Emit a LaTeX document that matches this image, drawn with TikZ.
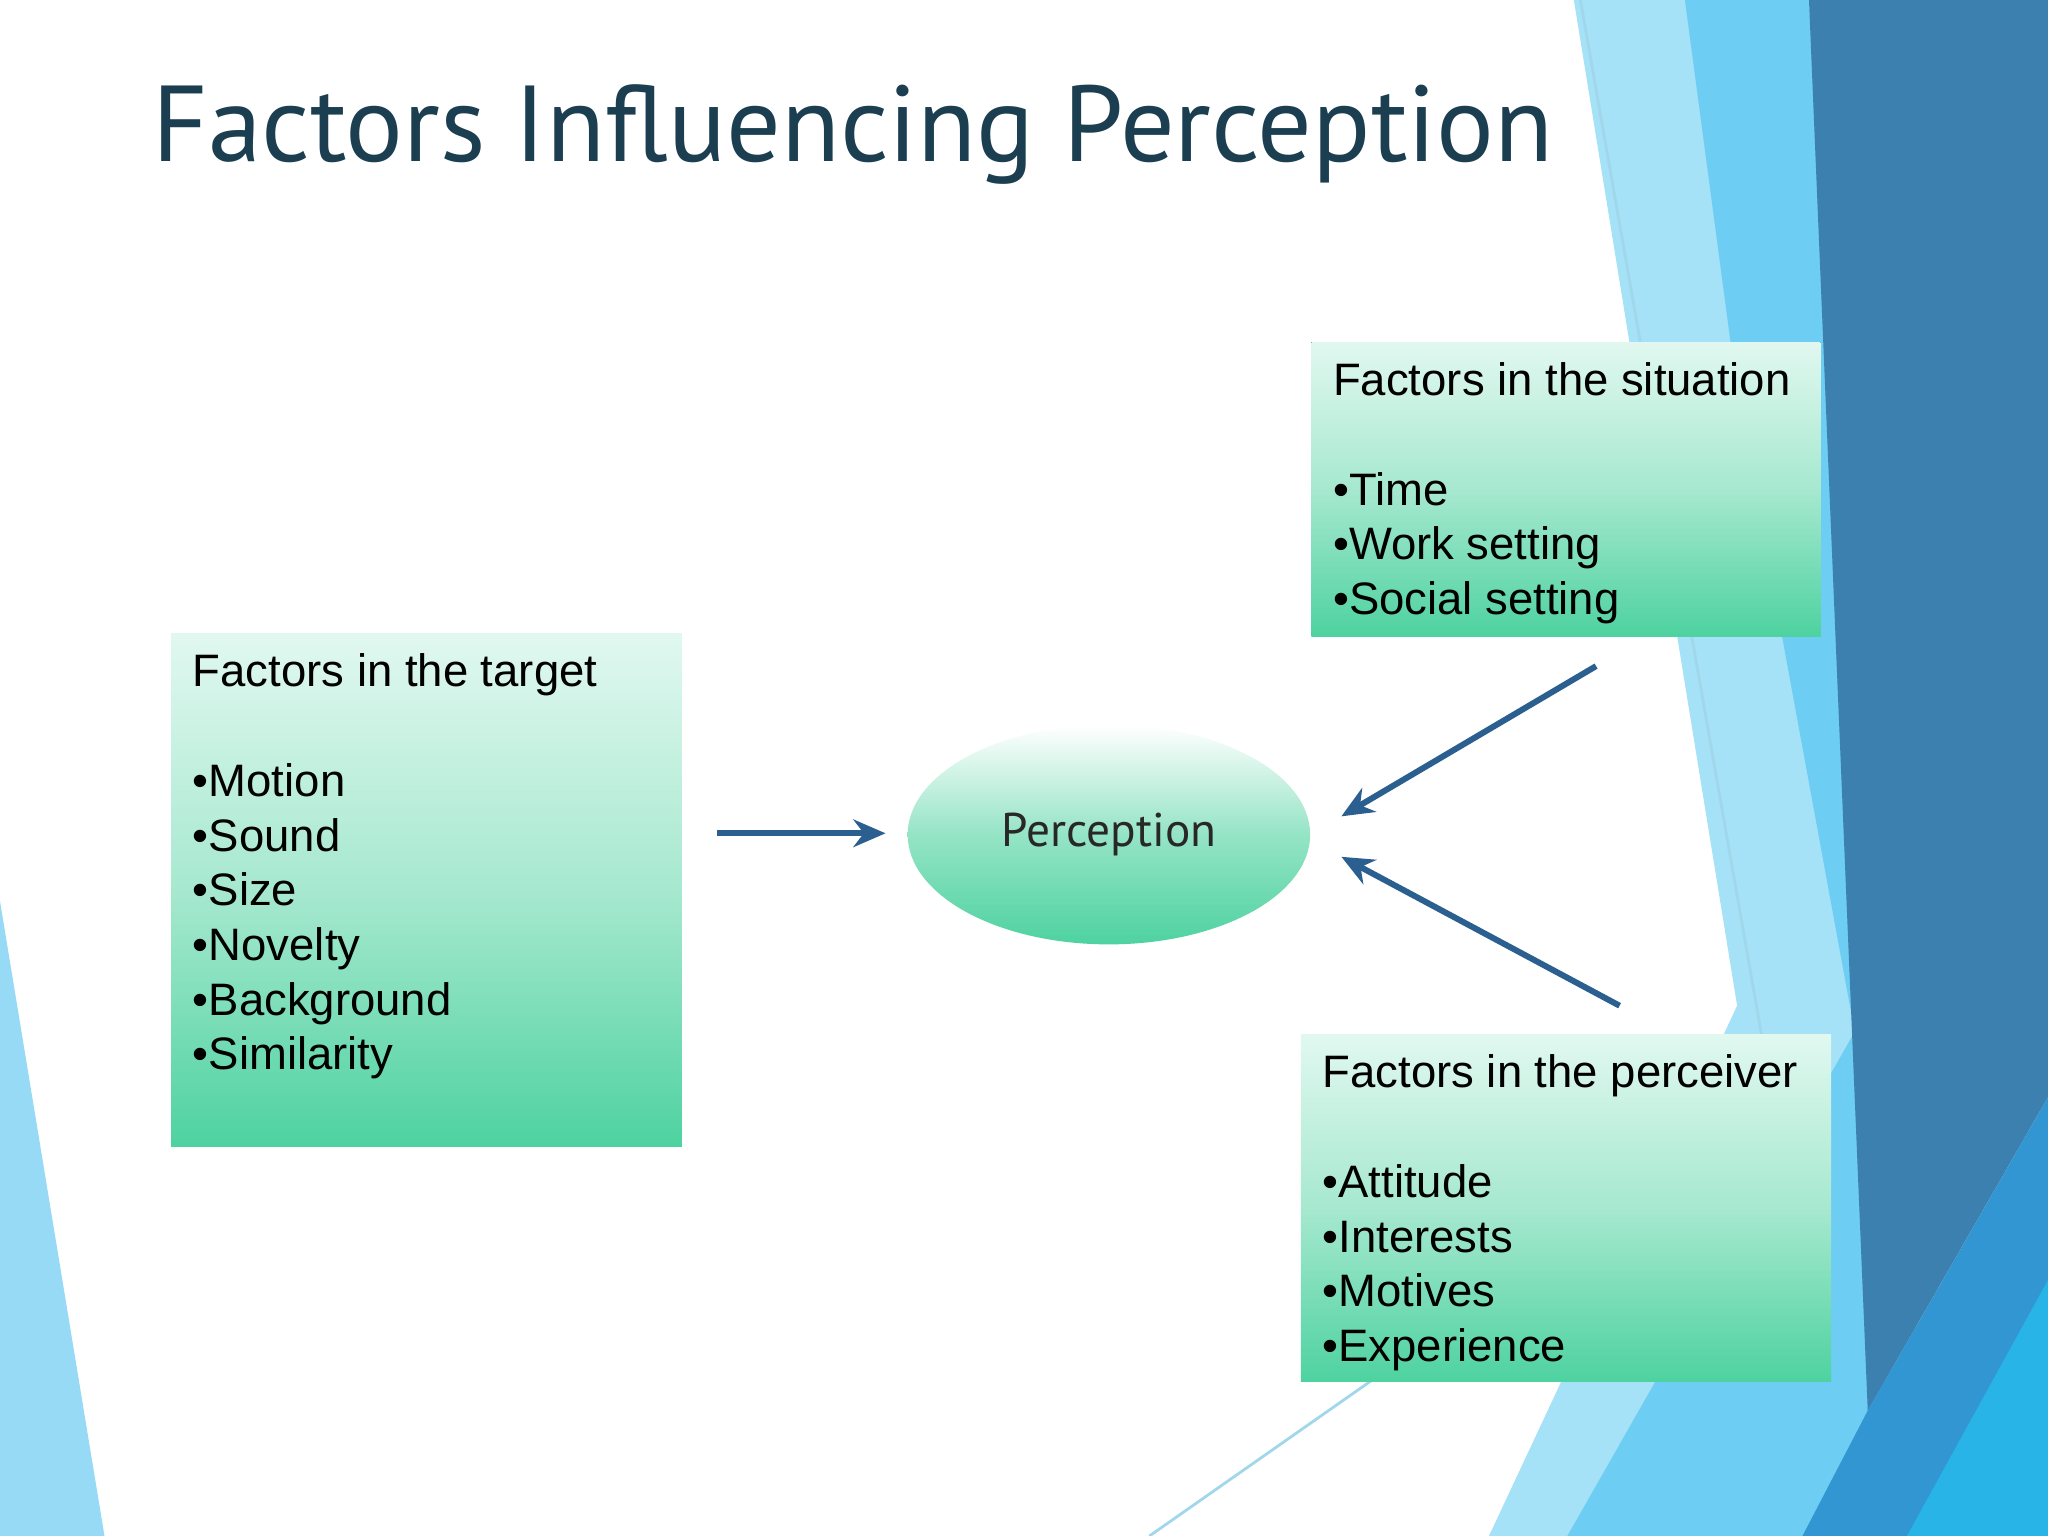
\documentclass[tikz,border=0pt]{standalone}
\usepackage{fontspec}
\setmainfont{Liberation Sans}
\newfontfamily\titlefont{PT Sans}
\usetikzlibrary{arrows.meta,shapes.geometric}
\definecolor{titlec}{RGB}{27,62,80}
\definecolor{arr}{RGB}{43,95,143}
\definecolor{gdark}{RGB}{78,210,160}
\definecolor{glight}{RGB}{225,248,240}
\tikzset{
 fbox/.style={anchor=north west,inner sep=0pt,align=left,font=\fontsize{9.9}{11.9}\selectfont,text=black},
 gfill/.style={top color=glight,bottom color=gdark,middle color=white!50!gdark,shading angle=0},
 arrw/.style={draw=arr,line width=1.3pt,-{Stealth[length=7pt,width=6pt]}}
}
\begin{document}
\begin{tikzpicture}[x=0.01cm,y=-0.01cm]
\useasboundingbox (0,0) rectangle (1568,1176);
\fill[white] (0,0) rectangle (1568,1176);
% background decoration
\fill[color={rgb,255:red,165;green,225;blue,247}] (1205,0)--(1385,0)--(1480,1176)--(1140,1176)--(1330,770)--cycle;
\fill[color={rgb,255:red,110;green,205;blue,242}] (1290,0)--(1385,0)--(1450,1176)--(1200,1176)--(1420,790)--(1330,300)--cycle;
\fill[color={rgb,255:red,60;green,128;blue,175}] (1385,0)--(1568,0)--(1568,840)--(1430,1080)--cycle;
\fill[color={rgb,255:red,50;green,150;blue,210}] (1430,1080)--(1568,840)--(1568,1176)--(1380,1176)--cycle;
\fill[color={rgb,255:red,40;green,180;blue,230}] (1460,1176)--(1568,980)--(1568,1176)--cycle;
\fill[color={rgb,255:red,150;green,218;blue,245}] (0,690)--(80,1176)--(0,1176)--cycle;
\draw[color={rgb,255:red,160;green,215;blue,235},line width=0.6pt] (1210,0)--(1350,800);
\draw[color={rgb,255:red,160;green,215;blue,235},line width=0.6pt] (880,1176)--(1060,1050);
% title
\node[anchor=base west,inner sep=0pt,text=titlec,font=\titlefont\fontsize{23.5}{28}\selectfont] (title) at (116,124) {Factors Influencing Perception};
% boxes
\fill[gfill] (131,485) rectangle (522,878);
\fill[gfill] (1004,262) rectangle (1394,487);
\fill[gfill] (996,792) rectangle (1402,1058);
\node[fbox] (target) at (147,500) {Factors in the target\\[0.42cm]\textbullet Motion\\\textbullet Sound\\\textbullet Size\\\textbullet Novelty\\\textbullet Background\\\textbullet Similarity};
\node[fbox] (sit) at (1020,277) {Factors in the situation\\[0.42cm]\textbullet Time\\\textbullet Work setting\\\textbullet Social setting};
\node[fbox] (perc) at (1012,807) {Factors in the perceiver\\[0.42cm]\textbullet Attitude\\\textbullet Interests\\\textbullet Motives\\\textbullet Experience};
\node[ellipse,minimum width=3.08cm,minimum height=1.68cm,inner sep=0pt,top color=white,bottom color=gdark,middle color=white!40!gdark,font=\titlefont\fontsize{10.3}{12}\selectfont,text={rgb,255:red,40;green,40;blue,40}] (p) at (849,639) {Perception};
% arrows
\coordinate (a1) at (549,638);
\coordinate (a1e) at (678,638);
\coordinate (a2) at (1222,510);
\coordinate (a2e) at (1027,625);
\coordinate (a3) at (1240,770);
\coordinate (a3e) at (1027,656);
\draw[arrw] (a1)--(a1e);
\draw[arrw] (a2)--(a2e);
\draw[arrw] (a3)--(a3e);
\end{tikzpicture}
\end{document}
